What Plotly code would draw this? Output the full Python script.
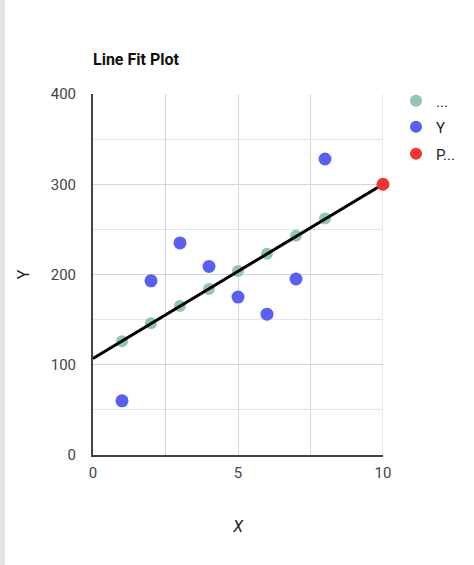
import plotly.graph_objects as go

x_vals = [1, 2, 3, 4, 5, 6, 7, 8]
y_obs = [60, 193, 235, 209, 175, 156, 195, 328]
y_pred = [126, 146, 165, 184, 204, 223, 243, 262]
line_x = [0, 10]
line_y = [107, 300]
red_x = [10]
red_y = [300]

L, R, T, B = 93, 383, 94, 455
W, H = 474, 565
pw, ph = R - L, B - T

def px(v):
    return (v - L) / pw

def py(v):
    return (B - v) / ph

fig = go.Figure()
fig.add_trace(go.Scatter(x=x_vals, y=y_pred, mode="markers", name="...",
                         marker=dict(color="#92c5b8", size=12), legend="legend"))
fig.add_trace(go.Scatter(x=x_vals, y=y_obs, mode="markers", name="Y",
                         marker=dict(color="#5b5ff0", size=13), legend="legend2"))
fig.add_trace(go.Scatter(x=line_x, y=line_y, mode="lines", showlegend=False,
                         line=dict(color="black", width=3)))
fig.add_trace(go.Scatter(x=red_x, y=red_y, mode="markers", name="P...",
                         marker=dict(color="#f03535", size=13), cliponaxis=False,
                         legend="legend3"))

leg_common = dict(xanchor="left", yanchor="middle", font=dict(size=15, color="#222"),
                  itemsizing="constant", bgcolor="rgba(0,0,0,0)", borderwidth=0)
fig.update_layout(
    width=W, height=H,
    margin=dict(l=L, r=W - R, t=T, b=H - B, autoexpand=False),
    paper_bgcolor="white", plot_bgcolor="white",
    font=dict(family="Roboto", color="#444", size=15),
    title=dict(text="<b>Line Fit Plot</b>", x=L / W, xanchor="left",
               y=1 - 59 / H, yanchor="middle",
               font=dict(size=16, color="#111", family="Roboto")),
    legend=dict(x=px(396), y=py(101), **leg_common),
    legend2=dict(x=px(396), y=py(127), **leg_common),
    legend3=dict(x=px(396), y=py(154), **leg_common),
    showlegend=True,
)
fig.update_xaxes(range=[0, 10], tickvals=[0, 5, 10], showgrid=True,
                 gridcolor="#d6d6d6", gridwidth=1,
                 minor=dict(dtick=2.5, showgrid=True, gridcolor="#d6d6d6"),
                 showline=True, linecolor="#444", linewidth=2, zeroline=False,
                 ticks="", ticklabelstandoff=3, automargin=False,
                 title=dict(text="<i>X</i>", font=dict(size=16, color="#222"), standoff=40))
fig.update_yaxes(range=[0, 400], tickvals=[0, 100, 200, 300, 400], showgrid=True,
                 gridcolor="#d6d6d6", gridwidth=1,
                 minor=dict(dtick=50, showgrid=True, gridcolor="#e4e4e4"),
                 showline=True, linecolor="#444", linewidth=2, zeroline=False,
                 ticks="", ticklabelstandoff=12, automargin=False,
                 title=dict(text="Y", font=dict(size=16, color="#222"), standoff=17))
fig.add_shape(type="rect", xref="paper", yref="paper", x0=px(0), x1=px(5),
              y0=py(H), y1=py(0), fillcolor="#e4e4e4", line_width=0, layer="below")
fig.add_shape(type="line", xref="x", yref="y", x0=10, x1=10, y0=0, y1=400,
              line=dict(color="#d6d6d6", width=1), layer="below")
fig.write_html("out.html", config={"displayModeBar": False},
               post_script="document.body.style.margin='0';document.body.style.padding='0';")
